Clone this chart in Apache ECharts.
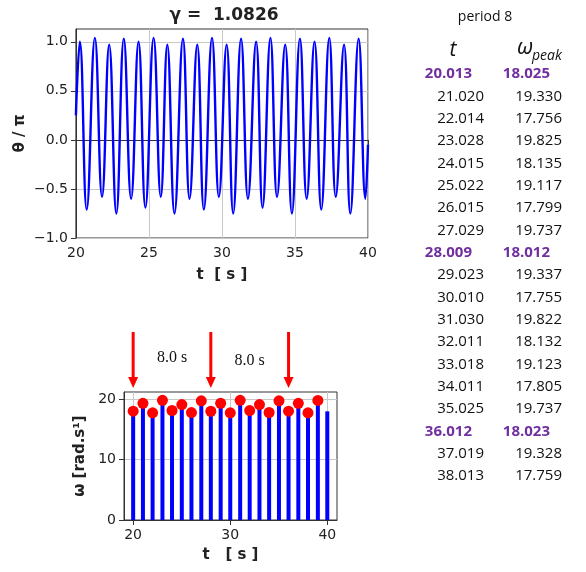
<!DOCTYPE html>
<html><head><meta charset="utf-8">
<script src="https://cdn.jsdelivr.net/npm/echarts@6/dist/echarts.min.js"></script>
<style>html,body{margin:0;padding:0;background:#fff}#c{width:586px;height:572px}</style>
</head><body><div id="c"></div>
<script>
// theta/pi curve: start, extremes (peak/trough alternating), end
const thetaT = [20.0, 20.27,20.74,21.30,21.79,22.28,22.77,23.28,23.78,24.29,24.76,25.32,25.81,26.26,26.75,27.33,27.78,28.31,28.76,29.32,29.79,30.32,30.77,31.31,31.78,32.34,32.78,33.32,33.77,34.33,34.79,35.34,35.80,36.34,36.80,37.35,37.79,38.36,38.79,39.36,39.82,40.0];
const thetaV = [0.25, 1.00,-0.71,1.04,-0.58,0.97,-0.75,1.03,-0.60,1.00,-0.69,1.04,-0.58,0.97,-0.75,1.03,-0.60,0.97,-0.71,1.04,-0.58,0.97,-0.75,1.03,-0.60,1.00,-0.69,1.04,-0.58,0.97,-0.75,1.03,-0.60,1.00,-0.71,1.04,-0.58,0.97,-0.75,1.03,-0.60,-0.05];
// table of omega peaks
const peakT = ["20.013","21.020","22.014","23.028","24.015","25.022","26.015","27.029","28.009","29.023","30.010","31.030","32.011","33.018","34.011","35.025","36.012","37.019","38.013"];
const peakW = ["18.025","19.330","17.756","19.825","18.135","19.117","17.799","19.737","18.012","19.337","17.755","19.822","18.132","19.123","17.805","19.737","18.023","19.328","17.759"];
const highlightRows = [0, 8, 16];
// extra plotted peaks beyond the table
const extraDotT = [39.03]; const extraDotW = [19.8];
const lastBarT = [40.0]; const lastBarW = [18.0];
const arrowTimes = [20.013, 28.009, 36.012];
const arrowLabels = ["8.0 s", "8.0 s"];

const dots = peakT.map((t,i)=>[+t, +peakW[i]]).concat(extraDotT.map((t,i)=>[t, extraDotW[i]]));
const bars = dots.concat(lastBarT.map((t,i)=>[t, lastBarW[i]]));
const theta = thetaT.map((t,i)=>[t, thetaV[i]]);

const axisFont = {fontFamily:'DejaVu Sans', fontSize:14, color:'#222'};
const nameFont = {fontFamily:'DejaVu Sans', fontSize:15, fontWeight:'bold', color:'#222'};
const split = {show:true, lineStyle:{color:'#c8c8c8'}};
const ch = echarts.init(document.getElementById('c'), null, {renderer:'canvas'});
const opt = {
  animation:false,
  title:{text:'γ =  1.0826', left:219, top:2, textAlign:'center', textStyle:{fontFamily:'DejaVu Sans', fontSize:17, fontWeight:'bold', color:'#222'}},
  grid:[
    {left:70, top:29, width:298, height:209, show:true, borderColor:'#333', borderWidth:1},
    {left:124, top:392, width:213, height:128, show:true, borderColor:'#333', borderWidth:1}
  ],
  xAxis:[
    {gridIndex:0, type:'value', min:20, max:40, interval:5, name:'t  [ s ]', nameLocation:'middle', nameGap:30, nameTextStyle:nameFont,
     axisLabel:axisFont, axisLine:{lineStyle:{color:'#333'}}, axisTick:{show:true, lineStyle:{color:'#333'}}, splitLine:split},
    {gridIndex:1, type:'value', min:19.07, max:41.0, interval:10, name:'t   [ s ]', nameLocation:'middle', nameGap:28, nameTextStyle:nameFont,
     axisLabel:{...axisFont, customValues:[20,30,40]}, axisTick:{customValues:[20,30,40], lineStyle:{color:'#333'}}, axisLine:{lineStyle:{color:'#333'}},
     splitLine:split}
  ],
  yAxis:[
    {gridIndex:0, type:'value', min:-1, max:1.13, interval:0.5, name:'θ / π', nameLocation:'middle', nameGap:48, nameTextStyle:nameFont,
     axisLabel:{...axisFont, customValues:[-1,-0.5,0,0.5,1], formatter:v=>v.toFixed(1).replace('-','−')}, axisTick:{customValues:[-1,-0.5,0,0.5,1], lineStyle:{color:'#333'}},
     axisLine:{show:true, lineStyle:{color:'#333'}}, splitLine:split},
    {gridIndex:1, type:'value', min:0, max:21.2, name:'ω [rad.s¹]', nameLocation:'middle', nameGap:36, nameTextStyle:nameFont,
     axisLabel:{...axisFont, customValues:[0,10,20]}, axisTick:{customValues:[0,10,20], lineStyle:{color:'#333'}},
     axisLine:{show:true, lineStyle:{color:'#333'}}, splitLine:split}
  ],
  series:[
    {type:'line', xAxisIndex:0, yAxisIndex:0, data:theta, smooth:0.45, showSymbol:false, lineStyle:{color:'#0000ff', width:2.4}},
    {type:'bar', xAxisIndex:1, yAxisIndex:1, data:bars, barWidth:4, itemStyle:{color:'#0000ff'}},
    {type:'scatter', xAxisIndex:1, yAxisIndex:1, data:dots, symbolSize:11, itemStyle:{color:'#ff0000', opacity:1}, z:5}
  ]
};
ch.setOption(opt);

const g = [];
const ax = arrowTimes.map(t=>ch.convertToPixel({gridIndex:1}, [t,0])[0]);
const arrowTop = 332, arrowBot = 388;
ax.forEach(x=>{
  g.push({type:'line', shape:{x1:x,y1:arrowTop,x2:x,y2:arrowBot-10}, style:{stroke:'#ff0000', lineWidth:3}});
  g.push({type:'polygon', shape:{points:[[x-5,arrowBot-11],[x+5,arrowBot-11],[x,arrowBot]]}, style:{fill:'#ff0000'}});
});
arrowLabels.forEach((s,i)=>{
  g.push({type:'text', x:(ax[i]+ax[i+1])/2, y:358 + i*3, style:{text:s, font:'16px "Liberation Serif"', fill:'#111', align:'center', verticalAlign:'middle'}});
});
g.push({type:'text', x:485, y:17, style:{text:'period 8', font:'14px "Open Sans"', fill:'#111', align:'center', verticalAlign:'middle'}});
g.push({type:'text', x:453, y:50, style:{text:'t', font:'italic 21px "Open Sans"', fill:'#111', align:'center', verticalAlign:'middle'}});
g.push({type:'text', x:517, y:48, style:{text:'ω', font:'italic 22px "Open Sans"', fill:'#111', align:'left', verticalAlign:'middle'}});
g.push({type:'text', x:532, y:56, style:{text:'peak', font:'italic 14px "Open Sans"', fill:'#111', align:'left', verticalAlign:'middle'}});
peakT.forEach((t,i)=>{
  const hi = highlightRows.includes(i);
  const y = 74 + i*22.33;
  const font = (hi?'bold ':'')+'15px "Open Sans"';
  const fill = hi ? '#7030a0' : '#111';
  g.push({type:'text', x:hi?472:484, y, style:{text:t, font, fill, align:'right', verticalAlign:'middle'}});
  g.push({type:'text', x:hi?550:562, y, style:{text:peakW[i], font, fill, align:'right', verticalAlign:'middle'}});
});
ch.setOption({graphic:g});
</script></body></html>
